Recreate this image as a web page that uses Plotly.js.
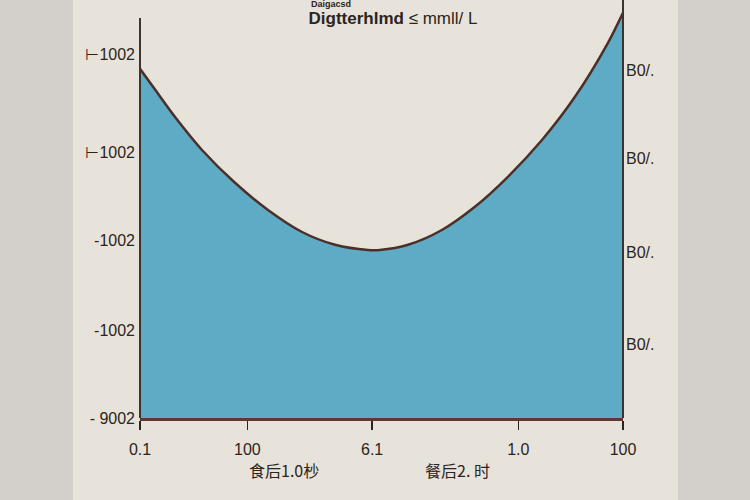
<!DOCTYPE html>
<html><head><meta charset="utf-8">
<script src="https://cdn.plot.ly/plotly-3.0.1.min.js"></script>
<style>html,body{margin:0;padding:0;background:#d3d0cb;}#chart{width:750px;height:500px;}</style>
</head><body><div id="chart"></div>
<script>
// time after meal (minutes) and glucose (mmol/L)
const timeMin = [0, 5.6, 13.0, 23.1, 35.4, 47.7, 60.4, 72.7, 85.0, 89.4, 99.9, 112.5, 124.8, 137.1, 149.8, 162.1, 174.4, 180];
const glucose = [8.73, 8.21, 7.53, 6.70, 5.88, 5.20, 4.65, 4.33, 4.20, 4.20, 4.33, 4.70, 5.28, 6.03, 6.95, 8.03, 9.38, 10.13];

const xTickVals = [0, 40, 86.5, 141, 180];
const xTickText = ["0.1", "100", "6.1", "1.0", "100"];
const yTickVals = [9.08, 6.63, 4.45, 2.2, 0];
const yTickText = ["⊢1002", "⊢1002", "-1002", "-1002", "- 9002"];
const y2TickVals = [8.7, 6.5, 4.15, 1.83];
const y2TickText = ["B0/.", "B0/.", "B0/.", "B0/."];
const periodLabels = ["食后1.0杪", "餐后2. 时"];
const periodPos = [0.299, 0.657];
const titleText = "<b>Digtterhlmd</b> ≤ mmll/ L";
const cutTitle = "<b>Daigacsd</b>";

const Y_RANGE = [0, 10.45];
const X_RANGE = [0, 180];
const ink = "#2b2520";
const font = "Liberation Sans, Arial, sans-serif";

const traces = [{
  x: timeMin, y: glucose, type: "scatter", mode: "lines",
  line: {color: "#4b3029", width: 2.5, shape: "spline", smoothing: 0.8},
  fill: "tozeroy", fillcolor: "#5eabc5", hoverinfo: "skip", showlegend: false
}, {
  x: [X_RANGE[0]], y: [Y_RANGE[0]], yaxis: "y2", type: "scatter", mode: "none",
  showlegend: false, hoverinfo: "skip"
}];

const annotations = periodLabels.map((t, i) => ({
  text: t, xref: "paper", yref: "paper", x: periodPos[i], y: -0.125,
  xanchor: "center", yanchor: "middle", showarrow: false,
  font: {family: "Noto Sans CJK SC, sans-serif", size: 16, color: ink}
}));
annotations.push({
  text: cutTitle, xref: "paper", yref: "paper", x: 0.395, y: 1,
  xanchor: "center", yanchor: "top", yshift: 3, showarrow: false,
  font: {family: font, size: 9, color: ink}
});

const layout = {
  width: 750, height: 500,
  margin: {l: 140, r: 127, t: 0, b: 82},
  paper_bgcolor: "#d3d0cb", plot_bgcolor: "rgba(0,0,0,0)",
  title: {text: titleText, x: 0.524, xanchor: "center", y: 0.964, yanchor: "middle",
          font: {family: font, size: 17, color: ink}},
  xaxis: {range: X_RANGE, tickmode: "array", tickvals: xTickVals, ticktext: xTickText,
          showgrid: false, zeroline: false, showline: true, linecolor: "#5a3b33", linewidth: 2.5,
          ticks: "outside", ticklen: 9, tickwidth: 1.5, tickcolor: ink, ticklabelstandoff: 6,
          tickfont: {family: font, size: 16, color: ink}, fixedrange: true},
  yaxis: {range: Y_RANGE, tickmode: "array", tickvals: yTickVals, ticktext: yTickText,
          showgrid: false, zeroline: false, showline: false, ticks: "",
          ticklabelstandoff: 4,
          tickfont: {family: font, size: 16, color: ink}, fixedrange: true},
  yaxis2: {range: Y_RANGE, overlaying: "y", side: "right", tickmode: "array",
          tickvals: y2TickVals, ticktext: y2TickText, showgrid: false, zeroline: false,
          showline: false, ticks: "", ticklabelstandoff: 2,
          tickfont: {family: font, size: 16, color: ink}, fixedrange: true},
  shapes: [
    {type: "rect", xref: "paper", yref: "paper", x0: -0.1387, x1: 1.1139, y0: -0.2, y1: 1.01,
     fillcolor: "#e8e3da", line: {width: 0}, layer: "below"},
    {type: "line", xref: "paper", yref: "paper", x0: 0, x1: 0, y0: 0, y1: 0.957,
     line: {color: "#3d3430", width: 2}, layer: "above"},
    {type: "line", xref: "paper", yref: "paper", x0: 1, x1: 1, y0: 0, y1: 1,
     line: {color: "#3d3430", width: 2}, layer: "above"}
  ],
  annotations: annotations,
  showlegend: false
};

Plotly.newPlot("chart", traces, layout, {staticPlot: true, displayModeBar: false});
</script></body></html>
